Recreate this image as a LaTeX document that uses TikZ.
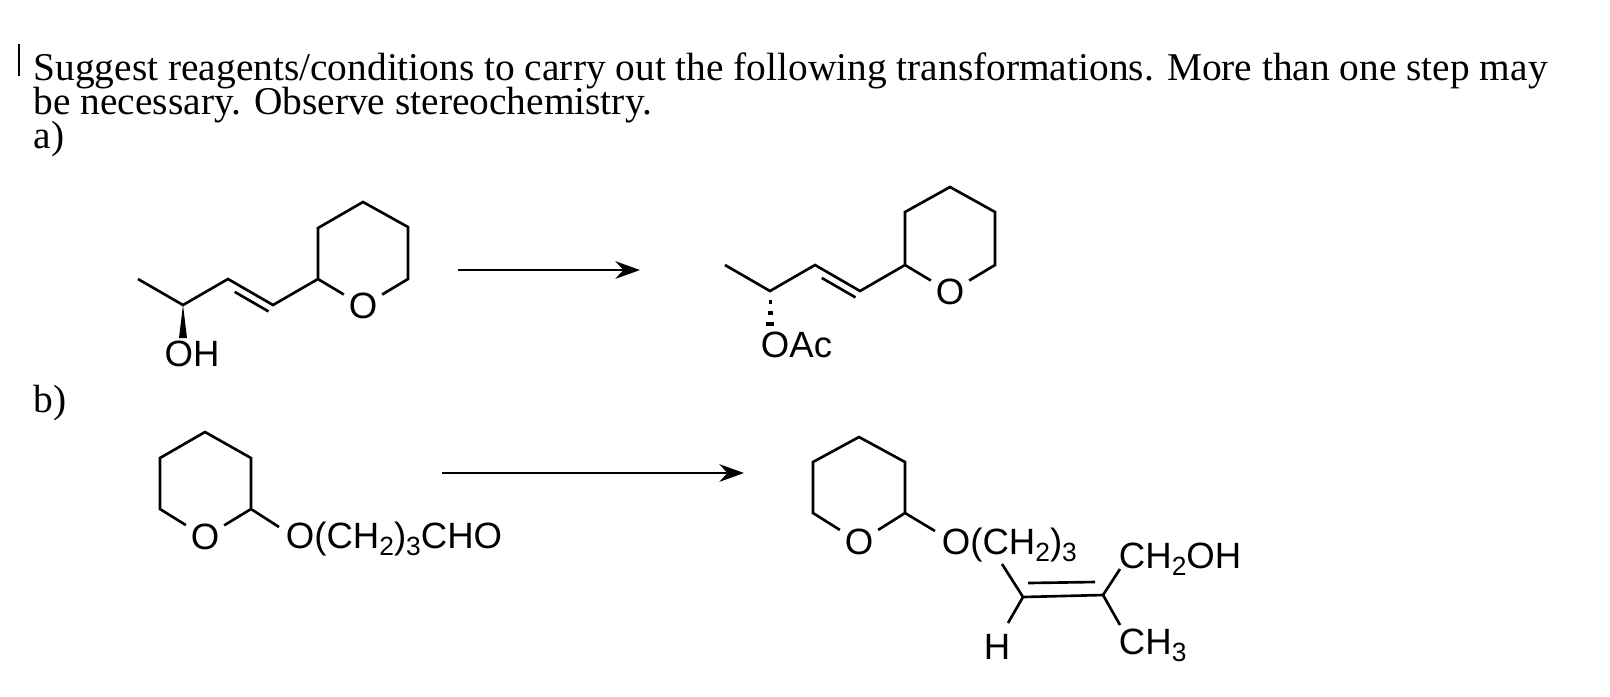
\documentclass[tikz,border=0pt]{standalone}
\usepackage{fontspec}
\setmainfont{Liberation Serif}
\newfontfamily\chemf{Liberation Sans}
\usetikzlibrary{arrows.meta,calc}
\newcommand{\sbs}[1]{\raisebox{-0.35ex}{\fontsize{7.5pt}{8pt}\selectfont #1}}
\begin{document}
\begin{tikzpicture}[x=0.01cm,y=-0.01cm,
  bond/.style={line width=0.75pt},
  atom/.style={inner sep=1.2pt,font=\chemf\fontsize{10.4pt}{11pt}\selectfont},
  lbl/.style={inner sep=0pt,anchor=base west,font=\fontsize{11.2pt}{13pt}\selectfont},
  rxn/.style={line width=0.75pt,-{Stealth[length=7pt,width=5pt]}}]
\useasboundingbox (0,0) rectangle (1610,696);
% heading
\draw[line width=0.5pt] (19,44) -- (19,76);
\node[lbl] (t1) at (33,80) {Suggest reagents/conditions to carry out the following transformations. More than one step may};
\node[lbl] (t2) at (33,114) {be necessary. Observe stereochemistry.};
\node[lbl] (ta) at (33,148) {a)};
\node[lbl] (tb) at (33,412) {b)};
% ---- a) left
\coordinate (a1) at (138,279);
\coordinate (a2) at (183,305);
\coordinate (a3) at (228,279);
\coordinate (a4) at (273,305);
\coordinate (a5) at (318,279);
\coordinate (a6) at (318,228);
\coordinate (a7) at (363,202);
\coordinate (a8) at (408,227);
\coordinate (a9) at (408,279);
\node[atom] (aO) at (363,306) {O};
\node[atom] (aOH) at (192,354) {OH};
\draw[bond] (a1)--(a2)--(a3)--(a4)--(a5)--(a6)--(a7)--(a8)--(a9)--(aO)--(a5);
\draw[bond] ($(a3)!0.15!(a4)+(0,9)$) -- ($(a3)!0.9!(a4)+(0,9)$);
\fill (a2) -- (179,338) -- (187,338) -- cycle;
% arrow a
\coordinate (ar1) at (458,270);
\coordinate (ar2) at (640,270);
\draw[rxn] (ar1) -- (ar2);
% ---- a) right
\coordinate (b1) at (725,265);
\coordinate (b2) at (770,291);
\coordinate (b3) at (815,265);
\coordinate (b4) at (860,291);
\coordinate (b5) at (905,265);
\coordinate (b6) at (905,212);
\coordinate (b7) at (950,187);
\coordinate (b8) at (995,212);
\coordinate (b9) at (995,265);
\node[atom] (bO) at (950,292) {O};
\node[atom,anchor=west] (bOAc) at (756,345) {OAc};
\draw[bond] (b1)--(b2)--(b3)--(b4)--(b5)--(b6)--(b7)--(b8)--(b9)--(bO)--(b5);
\draw[bond] ($(b3)!0.15!(b4)+(0,9)$) -- ($(b3)!0.9!(b4)+(0,9)$);
\draw[line width=0.9pt] (768.5,302)--(771.5,302) (767.5,313)--(772.5,313) (766,324)--(774,324);
% ---- b) left
\coordinate (c1) at (205,432);
\coordinate (c2) at (251,458);
\coordinate (c3) at (251,509);
\node[atom] (cO) at (205,537) {O};
\coordinate (c5) at (160,509);
\coordinate (c6) at (160,458);
\node[atom,anchor=west] (cR) at (281,539) {O(CH\sbs{2})\sbs{3}CHO};
\draw[bond] (c3)--(c2)--(c1)--(c6)--(c5)--(cO)--(c3);
\draw[bond] (c3) -- (279,527);
% arrow b
\coordinate (br1) at (442,473);
\coordinate (br2) at (744,473);
\draw[rxn] (br1) -- (br2);
% ---- b) right
\coordinate (d1) at (859,437);
\coordinate (d2) at (905,462);
\coordinate (d3) at (905,513);
\node[atom] (dO) at (859,542) {O};
\coordinate (d5) at (813,513);
\coordinate (d6) at (813,462);
\node[atom,anchor=west] (dR) at (937,545) {O(CH\sbs{2})\sbs{3}};
\draw[bond] (d3)--(d2)--(d1)--(d6)--(d5)--(dO)--(d3);
\draw[bond] (d3) -- (935,531);
\coordinate (e1) at (1023,597);
\coordinate (e2) at (1103,595);
\node[atom,anchor=west] (eA) at (1114,559) {CH\sbs{2}OH};
\node[atom,anchor=west] (eB) at (1114,645) {CH\sbs{3}};
\node[atom] (eH) at (997,647) {H};
\draw[bond] (1002,564) -- (e1) -- (e2) -- (1120,569);
\draw[bond] (e2) -- (1120,625);
\draw[bond] (e1) -- (1008,623);
\draw[bond] (1028,583) -- (1095,582);
\end{tikzpicture}
\end{document}
